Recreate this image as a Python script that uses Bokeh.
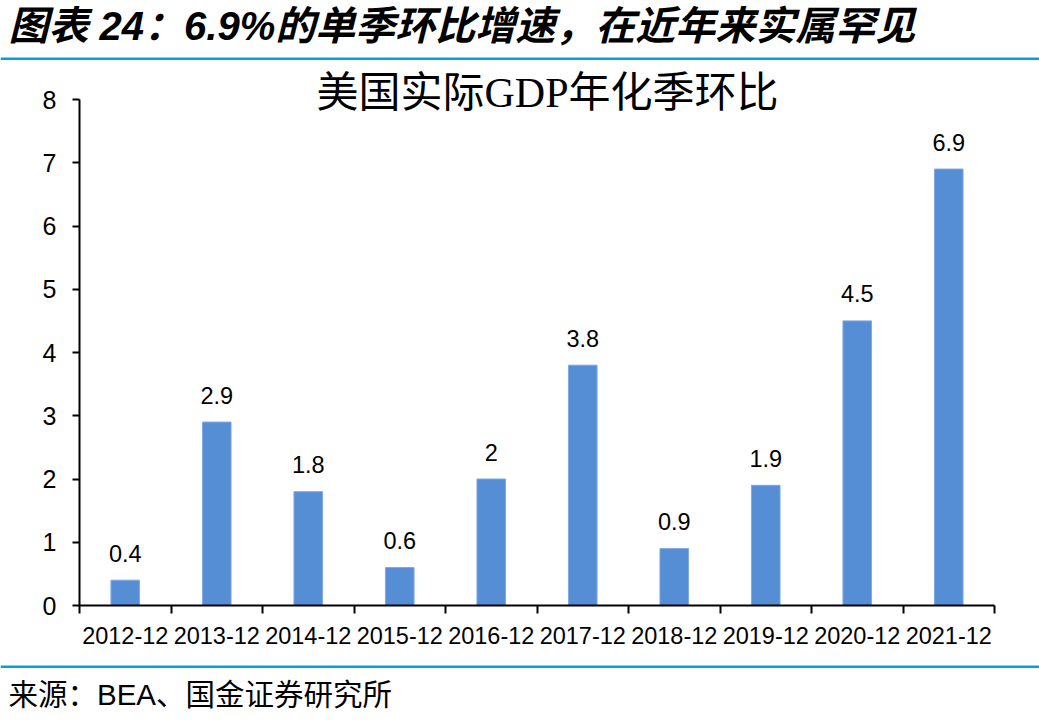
from bokeh.plotting import figure
from bokeh.layouts import column, row
from bokeh.models import (ColumnDataSource, Range1d, LinearAxis, FixedTicker,
                          Label, BoxAnnotation)
from bokeh.core.properties import value
from bokeh.embed import file_html
from bokeh.resources import INLINE

# ---- data ----
categories = ["2012-12", "2013-12", "2014-12", "2015-12", "2016-12",
              "2017-12", "2018-12", "2019-12", "2020-12", "2021-12"]
gdp_qoq = [0.4, 2.9, 1.8, 0.6, 2.0, 3.8, 0.9, 1.9, 4.5, 6.9]
y_ticks = [0, 1, 2, 3, 4, 5, 6, 7, 8]

header_text = "图表 24：6.9%的单季环比增速，在近年来实属罕见"
chart_title = "美国实际GDP年化季环比"
source_text = "来源：BEA、国金证券研究所"

BAR_COLOR = "#558ED5"
LINE_BLUE = "#00A0E9"
SANS = "Liberation Sans, 'Noto Sans CJK SC'"
SERIF = "Liberation Serif, 'Noto Sans CJK SC'"

W = 1039
HEAD_H = 62          # header strip (0..62)
FRAME_BOTTOM = 605   # canvas y of value 0
FRAME_TOP8 = 99      # canvas y of value 8
MAIN_BOTTOM = 660
FOOT_H = 722 - MAIN_BOTTOM
L, R = 79, 45

n = len(categories)
xs = [i + 0.5 for i in range(n)]
src = ColumnDataSource(dict(x=xs, top=gdp_qoq, cat=categories,
                            lbl=[f"{v:g}" for v in gdp_qoq]))

px_y = (FRAME_BOTTOM - FRAME_TOP8) / 8.0
px_x = (W - L - R) / n
def dx(px):
    return (px - L) / px_x
def dy(py):
    return (FRAME_BOTTOM - py) / px_y


def strip(height):
    f = figure(width=W, height=height, output_backend="svg", toolbar_location=None,
               x_range=Range1d(0, W), y_range=Range1d(height, 0),
               x_axis_location=None, y_axis_location=None,
               min_border=0, min_border_left=0, min_border_right=0,
               min_border_top=0, min_border_bottom=0)
    f.outline_line_color = None
    f.xgrid.visible = False
    f.ygrid.visible = False
    f.border_fill_color = "white"
    f.background_fill_color = "white"
    return f


# ---- header ----
head = strip(HEAD_H)
head.add_layout(Label(x=8, y=25, text=header_text, text_baseline="middle",
                      text_font=SANS, text_font_size="40px",
                      text_font_style="bold italic", text_color="black"))
head.add_layout(BoxAnnotation(left=0, right=W, top=57, bottom=59.5,
                              fill_color=LINE_BLUE, fill_alpha=1, line_color=None))

# ---- main chart ----
main_h = MAIN_BOTTOM - HEAD_H
p = figure(width=W, height=main_h, output_backend="svg", toolbar_location=None,
           x_range=Range1d(0, n), y_range=Range1d(0, dy(HEAD_H)),
           x_axis_location=None, y_axis_location=None,
           min_border_left=L, min_border_right=R, min_border_top=0,
           min_border_bottom=MAIN_BOTTOM - FRAME_BOTTOM)
p.outline_line_color = None
p.xgrid.visible = False
p.ygrid.visible = False
p.background_fill_color = "white"
p.border_fill_color = "white"

p.vbar(x="x", top="top", width=0.3125, bottom=0, source=src,
       fill_color=BAR_COLOR, line_color="#7FA9E0", line_width=1)

p.text(x="x", y="top", text="lbl", source=src, text_align="center",
       text_baseline="alphabetic", y_offset=-27,
       text_font=value(SANS), text_font_size="23.5px", text_color="black")

yax = LinearAxis(ticker=FixedTicker(ticks=y_ticks), bounds=(0, 8))
yax.axis_line_color = "black"
yax.axis_line_width = 2
yax.major_tick_line_color = "black"
yax.major_tick_line_width = 2
yax.major_tick_in = 0
yax.major_tick_out = 7
yax.minor_tick_line_color = None
yax.major_label_standoff = 16
yax.major_label_text_font = SANS
yax.major_label_text_font_size = "25px"
yax.major_label_text_color = "black"
p.add_layout(yax, "left")

xax = LinearAxis(ticker=FixedTicker(ticks=xs, minor_ticks=list(range(n + 1))))
xax.major_label_overrides = {x: c for x, c in zip(xs, categories)}
xax.axis_line_color = "black"
xax.axis_line_width = 2
xax.major_tick_line_color = None
xax.major_tick_in = 0
xax.major_tick_out = 0
xax.minor_tick_line_color = "black"
xax.minor_tick_line_width = 2
xax.minor_tick_in = 0
xax.minor_tick_out = 8
xax.major_label_standoff = 13
xax.major_label_text_font = SANS
xax.major_label_text_font_size = "23.5px"
xax.major_label_text_color = "black"
p.add_layout(xax, "below")

p.add_layout(Label(x=dx(547), y=dy(92), text=chart_title, text_align="center",
                   text_baseline="middle", text_font=SERIF, text_font_size="42px",
                   text_color="black"))

# ---- footer ----
foot = strip(FOOT_H)
foot.add_layout(BoxAnnotation(left=0, right=W, top=665 - MAIN_BOTTOM,
                              bottom=667.5 - MAIN_BOTTOM,
                              fill_color=LINE_BLUE, fill_alpha=1, line_color=None))
foot.add_layout(Label(x=8, y=694 - MAIN_BOTTOM, text=source_text, text_baseline="middle",
                      text_font=SANS, text_font_size="29.5px", text_color="black"))

layout = column(row(head), p, row(foot), spacing=0)
open("out.html", "w").write(file_html(layout, INLINE))
